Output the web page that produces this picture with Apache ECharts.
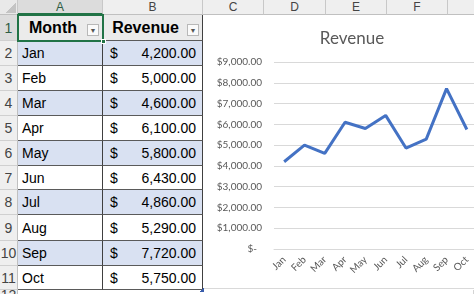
<!DOCTYPE html>
<html>
<head>
<meta charset="utf-8">
<script src="https://cdn.jsdelivr.net/npm/echarts@6/dist/echarts.min.js"></script>
<style>
  html, body { margin: 0; padding: 0; width: 474px; height: 294px; overflow: hidden; background: #fff; }
  #sheet { position: absolute; left: 0; top: 0; width: 474px; height: 294px; font-family: "Liberation Sans", Arial, sans-serif; }
  .abs { position: absolute; box-sizing: border-box; }
  .colhead { top: 0; height: 15px; background: #efefef; border-right: 1px solid #c8c8c8; border-bottom: 1px solid #c0c0c0;
             font-size: 12px; color: #444; text-align: center; line-height: 15px; }
  .rowhead { left: 0; width: 18px; background: #efefef; border-right: 1px solid #c0c0c0; border-bottom: 1px solid #d0d0d0;
             font-size: 14px; color: #444; text-align: center; }
  .cell { font-size: 14px; color: #000; border-bottom: 1px solid #5a5a5a; border-right: 1px solid #404040; }
  .hdr { font-weight: bold; font-size: 16px; background: #ebebeb; }
  .drop { width: 12px; height: 12px; border: 1px solid #b8b8b8; background: #fafafa; font-size: 7px; color: #555; text-align: center; line-height: 11px; }
  #chart { position: absolute; left: 204px; top: 15px; width: 280px; height: 274px; }
</style>
</head>
<body>
<div id="sheet"></div>
<div id="chart"></div>
<script>
const months = ["Jan", "Feb", "Mar", "Apr", "May", "Jun", "Jul", "Aug", "Sep", "Oct"];
const revenue = [4200, 5000, 4600, 6100, 5800, 6430, 4860, 5290, 7720, 5750];
const columnLetters = ["A", "B", "C", "D", "E", "F"];
const headers = ["Month", "Revenue"];

// sheet geometry (px)
const colEdges = [18, 103, 203, 264, 326, 387, 448];
const rowTops = [15, 41, 66, 91, 116, 141, 166, 190, 215, 241, 266, 290];

const sheet = document.getElementById("sheet");
function box(cls, x, y, w, h, html, extra) {
  const d = document.createElement("div");
  d.className = "abs " + cls;
  Object.assign(d.style, { left: x + "px", top: y + "px", width: w + "px", height: h + "px" }, extra || {});
  if (html != null) d.innerHTML = html;
  sheet.appendChild(d);
  return d;
}

// corner + column headers
box("colhead", 0, 0, 18, 15, "", { background: "#e9e9e9" });
box("", 6, 3, 10, 10, "", { background: "linear-gradient(135deg, transparent 50%, #c4c4c4 50%)" });
columnLetters.forEach((c, i) => {
  box("colhead", colEdges[i], 0, colEdges[i + 1] - colEdges[i], 15, c,
      i === 0 ? { background: "#dcdcdc", color: "#2f5d44", borderBottom: "2px solid #217346" } : {});
});
box("colhead", 448, 0, 40, 15, "");

// row headers
for (let r = 0; r < rowTops.length; r++) {
  const top = rowTops[r];
  const h = (rowTops[r + 1] || 300) - top;
  box("rowhead", 0, top, 18, h, String(r + 1),
      { lineHeight: h + "px", background: r === 0 ? "#dcdcdc" : "#efefef", color: r === 0 ? "#2f5d44" : "#444" });
}

// header row
headers.forEach((t, i) => {
  const x = colEdges[i], w = colEdges[i + 1] - x;
  box("cell hdr", x, rowTops[0], w, rowTops[1] - rowTops[0], t,
      { textAlign: "center", lineHeight: "25px", paddingRight: "14px" });
  box("drop", x + w - 16, 24, 12, 12, "&#9660;");
});

// data rows
months.forEach((m, i) => {
  const top = rowTops[i + 1], h = rowTops[i + 2] - top;
  const bg = i % 2 === 0 ? "#d9e1f2" : "#ffffff";
  box("cell", colEdges[0], top, colEdges[1] - colEdges[0], h, m,
      { background: bg, lineHeight: h + "px", paddingLeft: "4px" });
  const amt = revenue[i].toLocaleString("en-US", { minimumFractionDigits: 2, maximumFractionDigits: 2 });
  box("cell", colEdges[1], top, colEdges[2] - colEdges[1], h,
      '<span style="position:absolute;left:7px">$</span><span style="position:absolute;right:6px">' + amt + "</span>",
      { background: bg, lineHeight: h + "px" });
});

// selection on A1
box("", colEdges[0] - 1, rowTops[0] - 1, colEdges[1] - colEdges[0] + 2, rowTops[1] - rowTops[0] + 2, "",
    { border: "2px solid #217346" });
box("", colEdges[1] - 2, rowTops[1] - 2, 5, 5, "", { background: "#217346", border: "1px solid #fff" });
// table resize handle
box("", 199, 287, 5, 5, "", { background: "linear-gradient(135deg, transparent 50%, #3a5dab 50%)" });

// row 12 cells
box("", 18, 290, 456, 4, "", { borderRight: "1px solid #d4d4d4" });

const chart = echarts.init(document.getElementById("chart"));
chart.setOption({
  backgroundColor: "#fff",
  animation: false,
  title: {
    text: "Revenue",
    left: 143,
    top: 10,
    textAlign: "center",
    textStyle: { fontFamily: "Lato", fontSize: 17, fontWeight: "normal", color: "#595959" }
  },
  grid: { left: 70, right: 7, top: 47, bottom: 40 },
  xAxis: {
    type: "category",
    data: months,
    axisLine: { lineStyle: { color: "#d9d9d9" } },
    axisTick: { show: false },
    axisLabel: { rotate: 45, margin: 9, fontFamily: "Lato", fontSize: 10, color: "#595959" }
  },
  yAxis: {
    type: "value",
    min: 0,
    max: 9000,
    interval: 1000,
    axisLine: { show: false },
    axisTick: { show: false },
    splitLine: { lineStyle: { color: "#d9d9d9" } },
    axisLabel: {
      margin: 12,
      fontFamily: "Lato",
      fontSize: 10,
      color: "#595959",
      formatter: v => v === 0 ? "$-\u2002" : "$" + v.toLocaleString("en-US", { minimumFractionDigits: 2 })
    }
  },
  series: [{
    type: "line",
    data: revenue,
    symbol: "none",
    lineStyle: { color: "#4472c4", width: 3 },
    itemStyle: { color: "#4472c4" }
  }]
});
// chart bottom border
const cb = document.createElement("div");
Object.assign(cb.style, { position: "absolute", left: "204px", top: "288px", width: "280px", height: "1px", background: "#d9d9d9" });
document.body.appendChild(cb);
</script>
</body>
</html>
